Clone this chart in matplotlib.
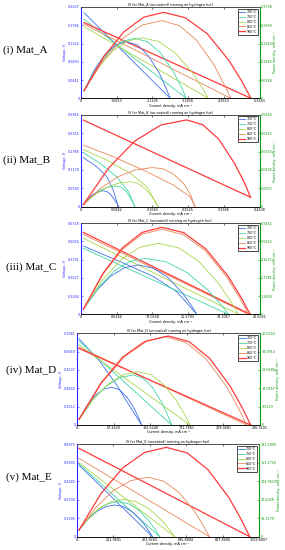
import numpy as np
import matplotlib.pyplot as plt

temps = ['700°C', '750°C', '800°C', '850°C', '900°C']
colors = ['#3f6fe8', '#3fd6a6', '#a6d64a', '#e8875a', '#ff3b3b']

# Mat_A
a_vi = [[0.09, 2.66], [0.09, 3.14], [0.09, 3.80], [0.09, 4.47], [0.09, 5.07]]
a_v = [[0.207, 0], [0.191, 0], [0.173, 0], [0.179, 0], [0.183, 0]]
a_pi = [[0.09, 0.41, 0.73, 1.04, 1.36, 1.69, 2.01, 2.34, 2.53, 2.66],
        [0.09, 0.47, 0.85, 1.23, 1.61, 1.99, 2.38, 2.76, 2.99, 3.14],
        [0.09, 0.52, 0.95, 1.38, 1.81, 2.31, 2.81, 3.30, 3.60, 3.80],
        [0.09, 0.67, 1.25, 1.83, 2.41, 2.93, 3.44, 3.96, 4.26, 4.47],
        [0.09, 0.68, 1.28, 1.87, 2.46, 3.11, 3.77, 4.42, 4.81, 5.07]]
a_p = [[0.031, 0.119, 0.182, 0.219, 0.232, 0.218, 0.174, 0.102, 0.044, 0],
       [0.031, 0.125, 0.192, 0.233, 0.246, 0.231, 0.185, 0.108, 0.047, 0],
       [0.031, 0.126, 0.194, 0.234, 0.248, 0.233, 0.186, 0.109, 0.047, 0],
       [0.031, 0.157, 0.246, 0.300, 0.318, 0.298, 0.239, 0.139, 0.060, 0],
       [0.031, 0.171, 0.272, 0.332, 0.352, 0.330, 0.264, 0.154, 0.067, 0]]

# Mat_B
b_vi = [[0.0055, 0.037, 0.061, 0.076, 0.088],
        [0.0055, 0.045, 0.084, 0.112, 0.127],
        [0.0055, 0.061, 0.116, 0.155, 0.182],
        [0.0055, 0.076, 0.155, 0.218, 0.257, 0.269],
        [0.0055, 0.400]]
b_v = [[0.157, 0.128, 0.096, 0.053, 0],
       [0.173, 0.139, 0.096, 0.048, 0],
       [0.183, 0.149, 0.107, 0.064, 0],
       [0.197, 0.160, 0.112, 0.069, 0.032, 0],
       [0.277, 0.030]]
b_pi = [[0.0055, 0.017, 0.029, 0.041, 0.053, 0.062, 0.070, 0.079, 0.085, 0.088],
        [0.0055, 0.025, 0.045, 0.064, 0.084, 0.095, 0.106, 0.116, 0.123, 0.127],
        [0.0055, 0.033, 0.061, 0.088, 0.116, 0.133, 0.149, 0.166, 0.175, 0.182],
        [0.0055, 0.046, 0.086, 0.127, 0.167, 0.193, 0.218, 0.244, 0.259, 0.269],
        [0.0055, 0.066, 0.127, 0.188, 0.249, 0.287, 0.325, 0.362, 0.385, 0.400]]
b_p = [[0.0006, 0.0024, 0.0036, 0.0044, 0.0046, 0.0043, 0.0035, 0.0020, 0.0009, 0],
       [0.0006, 0.0030, 0.0047, 0.0057, 0.0060, 0.0056, 0.0045, 0.0026, 0.0011, 0],
       [0.0006, 0.0035, 0.0056, 0.0068, 0.0072, 0.0068, 0.0054, 0.0032, 0.0014, 0],
       [0.0006, 0.0053, 0.0086, 0.0106, 0.0113, 0.0110, 0.0094, 0.0064, 0.0032, 0],
       [0.0006, 0.0113, 0.0190, 0.0236, 0.0251, 0.0237, 0.0195, 0.0125, 0.0070, 0.0027]]

# Mat_C
c_vi = [[0.56, 9.32, 17.29, 22.87, 27.65], [0.56, 35.22], [0.56, 37.6],
        [0.56, 40.0], [0.56, 40.4]]
c_v = [[0.474, 0.366, 0.262, 0.157, 0], [0.458, 0], [0.528, 0],
       [0.555, 0], [0.569, 0]]
c_pi = [[0.56, 3.85, 7.13, 10.42, 13.7, 17.19, 20.68, 24.16, 26.26, 27.65],
        [0.56, 4.25, 7.93, 11.62, 15.30, 20.28, 25.26, 30.24, 33.23, 35.22],
        [0.56, 5.04, 9.52, 14.01, 18.49, 23.27, 28.05, 32.82, 35.69, 37.6],
        [0.56, 5.24, 9.92, 14.60, 19.28, 24.46, 29.64, 34.82, 37.93, 40.0],
        [0.56, 5.24, 9.92, 14.60, 19.28, 24.56, 29.84, 35.12, 38.29, 40.4]]
c_p = [[0.38, 1.86, 2.92, 3.56, 3.77, 3.53, 2.83, 1.65, 0.72, 0],
       [0.38, 2.08, 3.30, 4.03, 4.27, 4.00, 3.20, 1.87, 0.81, 0],
       [0.38, 2.59, 4.16, 5.11, 5.42, 5.08, 4.07, 2.37, 1.03, 0],
       [0.38, 3.05, 4.96, 6.11, 6.49, 6.08, 4.87, 2.84, 1.23, 0],
       [0.38, 3.12, 5.08, 6.25, 6.64, 6.23, 4.98, 2.91, 1.26, 0]]

# Mat_D
d_vi = [[3.1, 36.0, 62.1, 82.9, 101.2], [3.1, 148.1], [3.1, 176.8],
        [3.1, 265.5], [3.1, 271.7]]
d_v = [[0.665, 0.488, 0.308, 0.141, 0], [0.647, 0], [0.616, 0],
       [0.598, 0], [0.590, 0]]
d_pi = [[3.1, 15.9, 28.6, 41.4, 54.2, 65.95, 77.7, 89.45, 96.5, 101.2],
        [3.1, 24.3, 45.6, 66.8, 88.0, 103.0, 118.1, 133.1, 142.1, 148.1],
        [3.1, 26.3, 49.6, 72.8, 96.0, 116.2, 136.4, 156.6, 168.7, 176.8],
        [3.1, 36.8, 70.4, 104.1, 137.7, 169.7, 201.6, 233.6, 252.7, 265.5],
        [3.1, 38.05, 73.0, 107.95, 142.9, 175.1, 207.3, 239.5, 258.8, 271.7]]
d_p = [[2.9, 10.2, 15.4, 18.6, 19.6, 18.4, 14.7, 8.6, 3.7, 0],
       [2.9, 13.0, 20.2, 24.6, 26.0, 24.4, 19.5, 11.4, 4.9, 0],
       [2.9, 13.8, 21.5, 26.2, 27.7, 26.0, 20.8, 12.1, 5.3, 0],
       [2.9, 21.7, 35.2, 43.2, 45.9, 43.0, 34.4, 20.1, 8.7, 0],
       [2.9, 21.8, 35.4, 43.5, 46.2, 43.3, 34.7, 20.2, 8.8, 0]]

# Mat_E
e_vi = [[11.6, 439.3], [11.6, 481.7], [11.6, 568.4], [11.6, 770.8], [11.6, 1005.8]]
e_v = [[0.539, 0], [0.547, 0], [0.557, 0], [0.590, 0], [0.665, 0]]
e_pi = [[11.6, 64.2, 116.8, 169.4, 222.0, 276.3, 330.7, 385.0, 417.6, 439.3],
        [11.6, 69.0, 126.3, 183.7, 241.0, 301.2, 361.4, 421.5, 457.6, 481.7],
        [11.6, 76.2, 140.8, 205.4, 270.0, 344.6, 419.2, 493.8, 538.6, 568.4],
        [11.6, 112.2, 212.8, 313.4, 414.0, 503.2, 592.4, 681.6, 735.1, 770.8],
        [11.6, 138.7, 265.8, 392.9, 520.0, 641.5, 762.9, 884.4, 957.2, 1005.8]]
e_p = [[13.8, 36.4, 52.6, 62.3, 65.5, 61.4, 49.1, 28.7, 12.4, 0],
       [13.8, 39.4, 57.8, 68.7, 72.4, 67.9, 54.3, 31.7, 13.8, 0],
       [13.8, 41.5, 61.4, 73.2, 77.2, 72.4, 57.9, 33.8, 14.7, 0],
       [13.8, 61.4, 95.5, 115.9, 122.7, 115.0, 92.0, 53.7, 23.3, 0],
       [13.8, 88.6, 142.0, 174.0, 184.7, 173.2, 138.5, 80.8, 35.1, 0]]

labels = ['(i) Mat_A', '(ii) Mat_B', '(iii) Mat_C', '(iv) Mat_D', '(v) Mat_E']
titles = ['IV for Mat_A (un-coated) running on hydrogen fuel',
          'IV for Mat_B (un-coated) running on hydrogen fuel',
          'IV for Mat_C (uncoated) running on hydrogen fuel',
          'IV for Mat_D (uncoated) running on hydrogen fuel',
          'IV for Mat_E (uncoated) running on hydrogen fuel']
x_max = [5.3263, 0.4208, 42.6321, 286.3101, 1059.8007]
v_max = [0.2207, 0.2944, 0.6318, 0.7061, 0.6975]
p_max = [0.3738, 0.0266, 6.9452, 47.6143, 191.5895]
data = [(a_vi, a_v, a_pi, a_p), (b_vi, b_v, b_pi, b_p), (c_vi, c_v, c_pi, c_p),
        (d_vi, d_v, d_pi, d_p), (e_vi, e_v, e_pi, e_p)]

W, H = 285, 550
# left, right, top, bottom in pixels
boxes = [(81, 259.5, 7, 98.3), (81, 259.5, 114.7, 206.7), (81, 259.5, 223.3, 314.3),
         (77, 260, 333.3, 425), (77, 259, 444, 536.7)]
label_pos = [(3, 50), (3, 160), (6, 267), (6, 370), (6, 477)]

blue = '#2b2bff'
green = '#119911'
fs = 2.4


def ticklabels(mx):
    t = np.linspace(0, mx, 6)
    return t, ['0'] + ['%.4f' % v for v in t[1:]]


fig = plt.figure(figsize=(W / 100, H / 100), dpi=100)
for k in range(5):
    l, r, t, b = boxes[k]
    ax = fig.add_axes([l / W, 1 - b / H, (r - l) / W, (b - t) / H])
    ax2 = ax.twinx()
    vi, v, pi, p = data[k]
    hs = []
    for j in range(5):
        lw = 0.9 if j == 4 else 0.6
        h, = ax.plot(vi[j], v[j], color=colors[j], lw=lw)
        ax2.plot(pi[j], p[j], color=colors[j], lw=lw)
        hs.append(h)
    ax.set_xlim(0, x_max[k])
    ax.set_ylim(0, v_max[k])
    ax2.set_ylim(0, p_max[k])
    xt, xl = ticklabels(x_max[k])
    ax.set_xticks(xt)
    ax.set_xticklabels(xl)
    yt, yl = ticklabels(v_max[k])
    ax.set_yticks(yt)
    ax.set_yticklabels(yl)
    pt, pl = ticklabels(p_max[k])
    ax2.set_yticks(pt)
    ax2.set_yticklabels(pl)
    ax.tick_params(axis='x', labelsize=fs, direction='in', length=1.5, width=0.4,
                   pad=0.8, top=True, colors='black')
    ax.tick_params(axis='y', labelsize=fs, direction='in', length=1.5, width=0.4,
                   pad=1, colors=blue)
    ax2.tick_params(axis='y', labelsize=fs, direction='in', length=1.5, width=0.4,
                    pad=1, colors=green)
    for s in ['top', 'bottom']:
        ax.spines[s].set_linewidth(0.5)
        ax2.spines[s].set_linewidth(0.5)
    ax2.spines['top'].set_color('#555555')
    ax.spines['left'].set_color(blue)
    ax.spines['left'].set_linewidth(0.8)
    ax2.spines['left'].set_visible(False)
    ax2.spines['right'].set_color(green)
    ax2.spines['right'].set_linewidth(0.8)
    ax.spines['right'].set_visible(False)
    ax.set_xlabel('Current density, mA cm⁻²', fontsize=fs, va='top')
    ax.xaxis.set_label_coords(0.5, -0.058)
    ax.set_ylabel('Voltage, V', fontsize=fs, color=blue, labelpad=0.4)
    ax2.set_ylabel('Power density, mW cm⁻²', fontsize=fs, color=green,
                   labelpad=0.3)
    ax.set_title(titles[k], fontsize=fs, pad=0.4)
    leg = ax2.legend(hs, temps, loc='upper right', fontsize=2.3, handlelength=2.0,
                     borderpad=0.35, labelspacing=0.3, handletextpad=0.5,
                     borderaxespad=0.5, fancybox=False, framealpha=1,
                     edgecolor='black')
    leg.get_frame().set_linewidth(0.5)
    fig.text(label_pos[k][0] / W, 1 - label_pos[k][1] / H, labels[k],
             family='Liberation Serif', fontsize=8, va='center', ha='left')

fig.savefig('out.png', dpi=100)
